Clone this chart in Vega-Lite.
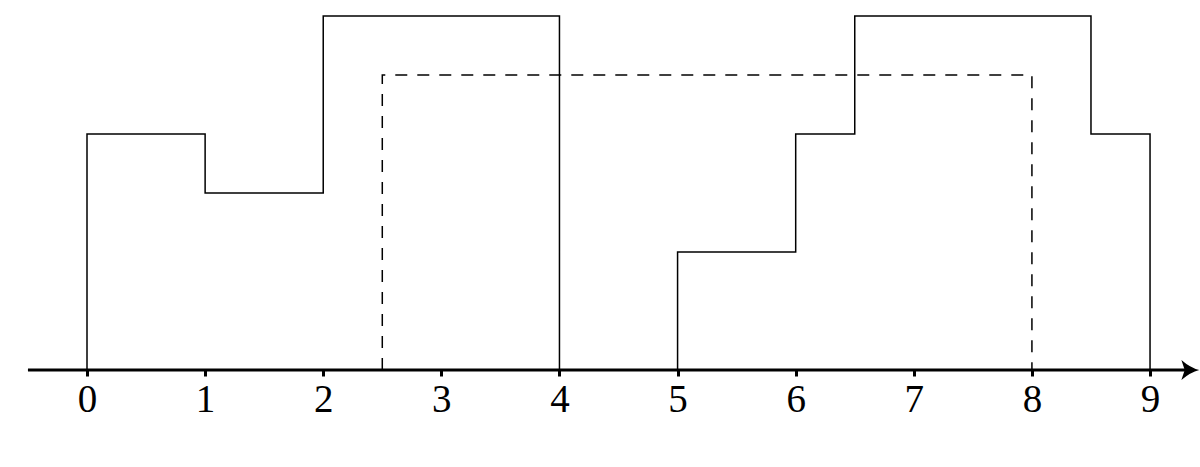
{
  "$schema": "https://vega.github.io/schema/vega-lite/v6.json",
  "width": 1200,
  "height": 370,
  "autosize": "none",
  "padding": {"left": 0, "top": 0, "right": 0, "bottom": 97},
  "background": "white",
  "config": {"view": {"stroke": null}},
  "datasets": {
    "solid": [
      {"order": 1, "x": 0, "y": 0},
      {"order": 2, "x": 0, "y": 4},
      {"order": 3, "x": 1, "y": 4},
      {"order": 4, "x": 1, "y": 3},
      {"order": 5, "x": 2, "y": 3},
      {"order": 6, "x": 2, "y": 6},
      {"order": 7, "x": 4, "y": 6},
      {"order": 8, "x": 4, "y": 0},
      {"order": 9, "x": 5, "y": 0},
      {"order": 10, "x": 5, "y": 2},
      {"order": 11, "x": 6, "y": 2},
      {"order": 12, "x": 6, "y": 4},
      {"order": 13, "x": 6.5, "y": 4},
      {"order": 14, "x": 6.5, "y": 6},
      {"order": 15, "x": 8.5, "y": 6},
      {"order": 16, "x": 8.5, "y": 4},
      {"order": 17, "x": 9, "y": 4},
      {"order": 18, "x": 9, "y": 0}
    ],
    "dashed": [
      {"order": 1, "x": 2.5, "y": 0},
      {"order": 2, "x": 2.5, "y": 5},
      {"order": 3, "x": 8, "y": 5},
      {"order": 4, "x": 8, "y": 0}
    ],
    "axisline": [{"x1": -0.5, "x2": 9.36, "y": 0}],
    "arrow": [{"x": 9.36, "y": 0}]
  },
  "layer": [
    {
      "data": {"name": "solid"},
      "mark": {"type": "line", "color": "black", "strokeWidth": 1.5},
      "encoding": {
        "x": {
          "field": "x", "type": "quantitative",
          "scale": {"domain": [-0.7366, 9.423], "nice": false, "zero": false},
          "axis": {
            "domain": false, "grid": false, "title": null,
            "values": [0, 1, 2, 3, 4, 5, 6, 7, 8, 9],
            "format": "d",
            "tickSize": 6, "tickWidth": 3, "tickColor": "black",
            "labelFont": "Liberation Serif", "labelFontSize": 39,
            "labelColor": "black", "labelPadding": 4, "labelFlush": false
          }
        },
        "y": {
          "field": "y", "type": "quantitative",
          "scale": {"domain": [0, 6.271], "nice": false, "zero": false},
          "axis": null
        },
        "order": {"field": "order"}
      }
    },
    {
      "data": {"name": "dashed"},
      "mark": {"type": "line", "color": "black", "strokeWidth": 1.5, "strokeDash": [12, 10]},
      "encoding": {
        "x": {"field": "x", "type": "quantitative"},
        "y": {"field": "y", "type": "quantitative"},
        "order": {"field": "order"}
      }
    },
    {
      "data": {"name": "axisline"},
      "mark": {"type": "rule", "color": "black", "strokeWidth": 3},
      "encoding": {
        "x": {"field": "x1", "type": "quantitative"},
        "x2": {"field": "x2"},
        "y": {"field": "y", "type": "quantitative"}
      }
    },
    {
      "data": {"name": "arrow"},
      "mark": {
        "type": "point",
        "shape": "M -1 -0.9 Q -0.2 -0.2 0.6 0 Q -0.2 0.2 -1 0.9 L -0.7 0 Z",
        "filled": true,
        "color": "black",
        "size": 500,
        "opacity": 1
      },
      "encoding": {
        "x": {"field": "x", "type": "quantitative"},
        "y": {"field": "y", "type": "quantitative"}
      }
    }
  ]
}
